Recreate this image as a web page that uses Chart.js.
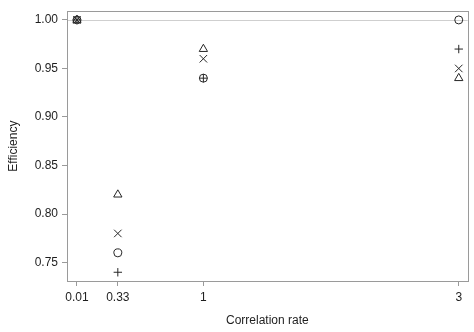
<!DOCTYPE html>
<html>
<head>
<meta charset="utf-8">
<script src="https://cdn.jsdelivr.net/npm/chart.js@4/dist/chart.umd.min.js"></script>
<style>
  html, body { margin: 0; padding: 0; background: #fff; }
  #wrap { width: 474px; height: 332px; }
</style>
</head>
<body>
<div id="wrap"><canvas id="chart" width="474" height="332"></canvas></div>
<script>
// Correlation rates on the x axis
const correlationRates = [0.01, 0.33, 1, 3];
const xTicks = [0.01, 0.33, 1, 3];
const yTicks = [0.75, 0.80, 0.85, 0.90, 0.95, 1.00];

// Efficiency per marker series
const triangleSeries = [1.00, 0.82, 0.97, 0.94];
const crossRotSeries = [1.00, 0.78, 0.96, 0.95];
const circleSeries   = [1.00, 0.76, 0.94, 1.00];
const plusSeries     = [1.00, 0.74, 0.94, 0.97];

const toPoints = (values) => values.map((v, i) => ({ x: correlationRates[i], y: v }));

const markerColor = '#262626';
const axisColor = '#9a9a9a';
const font = { family: 'Arial, "Liberation Sans", sans-serif', size: 12 };

// draw the frame around the plot area and the reference line at 1.00
const framePlugin = {
  id: 'frame',
  beforeDatasetsDraw(chart) {
    const { ctx, chartArea: a, scales } = chart;
    ctx.save();
    const y1 = Math.round(scales.y.getPixelForValue(1)) + 0.5;
    ctx.strokeStyle = '#cfcfcf';
    ctx.lineWidth = 1;
    ctx.beginPath();
    ctx.moveTo(a.left, y1);
    ctx.lineTo(a.right, y1);
    ctx.stroke();
    ctx.strokeStyle = axisColor;
    ctx.strokeRect(Math.round(a.left) + 0.5, Math.round(a.top) + 0.5,
      Math.round(a.right - a.left), Math.round(a.bottom - a.top));
    ctx.restore();
  }
};

const makeSet = (values, style, radius) => ({
  data: toPoints(values),
  pointStyle: style,
  pointRadius: radius,
  pointHoverRadius: radius,
  borderColor: markerColor,
  backgroundColor: 'rgba(0,0,0,0)',
  pointBorderWidth: 1,
  showLine: false,
});

new Chart(document.getElementById('chart'), {
  type: 'scatter',
  data: {
    datasets: [
      makeSet(triangleSeries, 'triangle', 4.8),
      makeSet(crossRotSeries, 'crossRot', 5.3),
      makeSet(circleSeries, 'circle', 4),
      makeSet(plusSeries, 'cross', 4.2),
    ],
  },
  options: {
    responsive: false,
    devicePixelRatio: 1,
    animation: false,
    layout: { padding: { top: 6, right: 6, left: 2, bottom: 0 } },
    plugins: { legend: { display: false }, tooltip: { enabled: false } },
    scales: {
      x: {
        type: 'linear',
        min: -0.068,
        max: 3.07,
        afterBuildTicks: (scale) => { scale.ticks = xTicks.map(v => ({ value: v })); },
        afterFit: (scale) => { scale.height = 51; },
        ticks: {
          color: '#1e1e1e',
          font: font,
          padding: 4,
          maxRotation: 0,
          callback: (v) => String(v),
        },
        grid: { drawOnChartArea: false, drawTicks: true, tickLength: 5, color: axisColor },
        border: { display: true, color: axisColor },
        title: { display: true, text: 'Correlation rate', color: '#1e1e1e', font: font, padding: { top: 8 } },
      },
      y: {
        min: 0.731,
        max: 1.009,
        afterBuildTicks: (scale) => { scale.ticks = yTicks.map(v => ({ value: v })); },
        afterFit: (scale) => { scale.width = 65; },
        ticks: {
          color: '#1e1e1e',
          font: font,
          padding: 4,
          callback: (v) => Number(v).toFixed(2),
        },
        grid: { drawOnChartArea: false, drawTicks: true, tickLength: 5, color: axisColor },
        border: { display: true, color: axisColor },
        title: { display: true, text: 'Efficiency', color: '#1e1e1e', font: font, padding: { bottom: 4 } },
      },
    },
  },
  plugins: [framePlugin],
});
</script>
</body>
</html>
